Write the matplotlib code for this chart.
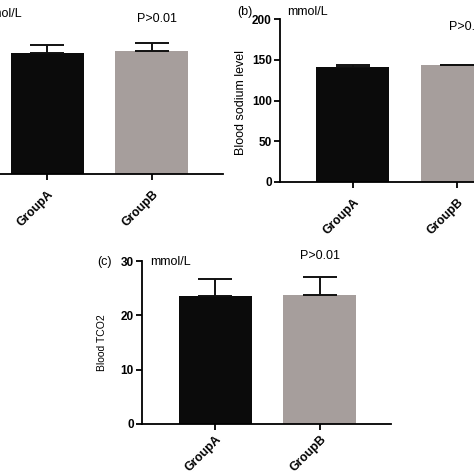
import matplotlib.pyplot as plt

plt.rcParams['font.family'] = ['Liberation Sans', 'DejaVu Sans']

groups = ['GroupA', 'GroupB']
colors = ['#0b0b0b', '#a69e9c']

# panel (a) - axis is cropped off on the left, values estimated
a_mean = [4.45, 4.53]
a_err = [0.30, 0.30]
# panel (b) blood sodium
b_mean = [141.5, 143.0]
b_err = [1.5, 1.0]
# panel (c) blood TCO2
c_mean = [23.6, 23.8]
c_err = [3.0, 3.2]

W = H = 474.0
fig = plt.figure(figsize=(4.74, 4.74), dpi=100)


def make_ax(left, right, bottom, top):
    return fig.add_axes([left / W, 1 - bottom / H, (right - left) / W, (bottom - top) / H])


def draw(ax, means, errs, ylim, yticks, xpad):
    x = range(len(groups))
    ax.bar(x, means, width=0.70, color=colors, zorder=2)
    for xi, m, e in zip(x, means, errs):
        ax.errorbar(xi, m, yerr=[[0], [e]], color='#111111', capsize=12.5,
                    elinewidth=1.4, capthick=1.4, zorder=3)
    ax.set_xlim(-0.70, 1.68)
    ax.set_ylim(*ylim)
    ax.set_yticks(yticks)
    ax.set_xticks(list(x))
    ax.set_xticklabels(groups, rotation=45, ha='right', rotation_mode='anchor',
                       fontsize=8.8, fontweight='bold')
    for lab in ax.get_yticklabels():
        lab.set_fontweight('bold')
        lab.set_fontsize(8.5)
    for s in ['top', 'right']:
        ax.spines[s].set_visible(False)
    for s in ['left', 'bottom']:
        ax.spines[s].set_linewidth(1.3)
    ax.tick_params(axis='both', direction='out', length=4, width=1.3, pad=2)
    ax.tick_params(axis='x', pad=xpad)
    ax.patch.set_alpha(0)


ax_a = make_ax(-26, 223, 174, 11)
draw(ax_a, a_mean, a_err, (0, 6), [0, 2, 4, 6], 6)
ax_a.tick_params(axis='y', labelleft=False)
ax_b = make_ax(280, 528, 182, 19)
draw(ax_b, b_mean, b_err, (0, 200), [0, 50, 100, 150, 200], 6)
ax_c = make_ax(142, 391, 424, 261)
draw(ax_c, c_mean, c_err, (0, 30), [0, 10, 20, 30], 2.5)

ax_b.set_ylabel('Blood sodium level', fontsize=9)
ax_b.yaxis.set_label_coords(-0.135, 0.49)
ax_c.set_ylabel('Blood TCO2', fontsize=7.5)
ax_c.yaxis.set_label_coords(-0.14, 0.5)


def ftext(x, y, s, **kw):
    fig.text(x / W, 1 - y / H, s, va='center', fontsize=9, **kw)


ftext(-19, 14, 'mmol/L')
ftext(157, 19, 'P>0.01', ha='center')
ftext(237, 12, '(b)')
ftext(287, 12, 'mmol/L')
ftext(449, 27, 'P>0.01')
ftext(97, 262, '(c)')
ftext(150, 262, 'mmol/L')
ftext(320, 256, 'P>0.01', ha='center')

fig.savefig('out.png', dpi=100)
